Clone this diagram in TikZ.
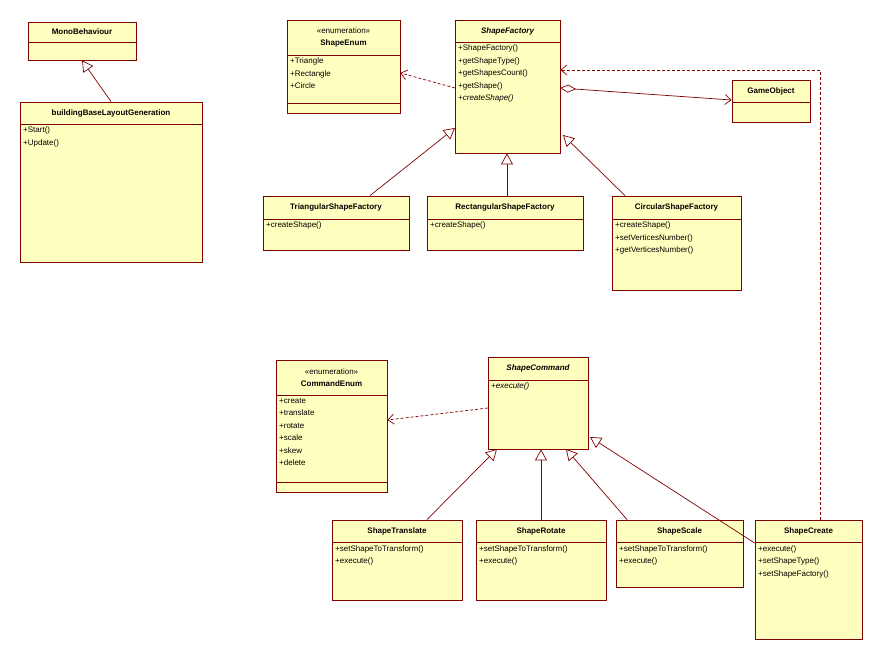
\documentclass[tikz,border=0pt]{standalone}
\usepackage{fontspec}
\setmainfont{Liberation Sans}
\usetikzlibrary{fit,arrows.meta}
\definecolor{ln}{RGB}{128,0,0}
\definecolor{bg}{RGB}{255,255,192}
\tikzset{
  cbox/.style={draw=ln,fill=bg,inner sep=0pt,line width=0.8pt},
  txt/.style={font=\fontsize{8}{12.5}\selectfont,inner sep=0pt},
  body/.style={txt,anchor=north west,align=left},
  gen/.style={draw=ln,line width=0.7pt,-{Triangle[open,length=11pt,width=12pt]}},
  dep/.style={draw=ln,line width=0.7pt,dashed,dash pattern=on 3pt off 2pt,-{Straight Barb[length=6pt,width=10pt]}},
  agg/.style={draw=ln,line width=0.7pt,{Diamond[open,length=16pt,width=8pt]}-{Straight Barb[length=6pt,width=10pt]}}
}
\newcommand\umlcls[8]{%
  \node[cbox,fit={(#2,#3)(#4,#5)}] (#1) {};
  \draw[ln,line width=0.8pt] (#2,#6) -- (#4,#6);
  \node[txt,align=center] at ({(#2+#4)/2},{(#3+#6)/2}) {#7};
  \node[body] at (#2+3,#6+3) {#8};
}
\newcommand\stereo{{\normalfont\textless\textless enumeration\textgreater\textgreater}}
\begin{document}
\begin{tikzpicture}[x=1pt,y=-1pt]
\useasboundingbox (0,0) rectangle (883,660);
\umlcls{mono}{28}{22}{136}{60}{42}{\bfseries MonoBehaviour}{}
\umlcls{bblg}{20}{102}{202}{262}{124}{\bfseries buildingBaseLayoutGeneration}{+Start()\\+Update()}
\umlcls{senum}{287}{20}{400}{113}{55}{\stereo\\\bfseries ShapeEnum}{+Triangle\\+Rectangle\\+Circle}
\draw[ln,line width=0.8pt] (287,103) -- (400,103);
\umlcls{sf}{455}{20}{560}{153}{42}{\bfseries\itshape ShapeFactory}{+ShapeFactory()\\+getShapeType()\\+getShapesCount()\\+getShape()\\\itshape +createShape()}
\umlcls{go}{732}{80}{810}{122}{102}{\bfseries GameObject}{}
\umlcls{tsf}{263}{196}{409}{250}{219}{\bfseries TriangularShapeFactory}{+createShape()}
\umlcls{rsf}{427}{196}{583}{250}{219}{\bfseries RectangularShapeFactory}{+createShape()}
\umlcls{csf}{612}{196}{741}{290}{219}{\bfseries CircularShapeFactory}{+createShape()\\+setVerticesNumber()\\+getVerticesNumber()}
\umlcls{cenum}{276}{360}{387}{492}{395}{\stereo\\\bfseries CommandEnum}{+create\\+translate\\+rotate\\+scale\\+skew\\+delete}
\draw[ln,line width=0.8pt] (276,482) -- (387,482);
\umlcls{sc}{488}{357}{588}{449}{380}{\bfseries\itshape ShapeCommand}{\itshape +execute()}
\umlcls{st}{332}{520}{462}{600}{542}{\bfseries ShapeTranslate}{+setShapeToTransform()\\+execute()}
\umlcls{sr}{476}{520}{606}{600}{542}{\bfseries ShapeRotate}{+setShapeToTransform()\\+execute()}
\umlcls{ss}{616}{520}{743}{587}{542}{\bfseries ShapeScale}{+setShapeToTransform()\\+execute()}
\umlcls{scr}{755}{520}{862}{639}{542}{\bfseries ShapeCreate}{+execute()\\+setShapeType()\\+setShapeFactory()}
% connectors
\draw[gen] (bblg.north) -- (mono.south);
\draw[dep] (455,88) -- (senum.east |- 0,73);
\draw[agg] (560,88) -- (go.west |- 0,100);
\coordinate (c1) at (820,70);
\draw[dep] (scr.north -| c1) -- (c1) -- (sf.east |- c1);
\draw[gen] (tsf.north -| 370,0) -- (455,128);
\draw[gen] (rsf.north -| 507,0) -- (sf.south -| 507,0);
\draw[gen] (csf.north -| 625,0) -- (563,135);
\draw[dep] (488,408) -- (cenum.east |- 0,420);
\draw[gen] (st.north -| 427,0) -- (497,449);
\draw[gen] (sr.north -| 541,0) -- (sc.south -| 541,0);
\draw[gen] (ss.north -| 627,0) -- (566,449);
\draw[gen] (scr.west |- 0,543) -- (590,437);
\end{tikzpicture}
\end{document}
